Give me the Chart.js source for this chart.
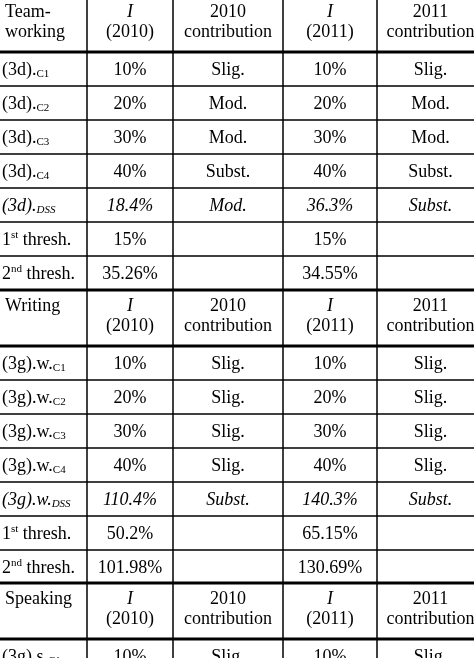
<!DOCTYPE html>
<html><head><meta charset="utf-8">
<script src="https://cdn.jsdelivr.net/npm/chart.js@4"></script>
<style>html,body{margin:0;padding:0;background:#fff}#w{width:474px;height:658px}</style>
</head><body><div id="w"><canvas id="c"></canvas></div>
<script>
// ---- data ----
const sections = ["Team-\nworking", "Writing", "Speaking"];
const headerCols = ["*I*\n(2010)", "2010\ncontribution", "*I*\n(2011)", "2011\ncontribution"];
const teamLabels = ["(3d)._C1","(3d)._C2","(3d)._C3","(3d)._C4","*(3d)._DSS*","1^st thresh.","2^nd thresh."];
const teamI2010 = ["10%","20%","30%","40%","*18.4%*","15%","35.26%"];
const teamC2010 = ["Slig.","Mod.","Mod.","Subst.","*Mod.*","",""];
const teamI2011 = ["10%","20%","30%","40%","*36.3%*","15%","34.55%"];
const teamC2011 = ["Slig.","Mod.","Mod.","Subst.","*Subst.*","",""];
const writeLabels = ["(3g).w._C1","(3g).w._C2","(3g).w._C3","(3g).w._C4","*(3g).w._DSS*","1^st thresh.","2^nd thresh."];
const writeI2010 = ["10%","20%","30%","40%","*110.4%*","50.2%","101.98%"];
const writeC2010 = ["Slig.","Slig.","Slig.","Slig.","*Subst.*","",""];
const writeI2011 = ["10%","20%","30%","40%","*140.3%*","65.15%","130.69%"];
const writeC2011 = ["Slig.","Slig.","Slig.","Slig.","*Subst.*","",""];
const speakLabels = ["(3g).s._C1"];
const speakI2010 = ["10%"];
const speakC2010 = ["Slig."];
const speakI2011 = ["10%"];
const speakC2011 = ["Slig."];

// ---- layout ----
const colEdges = [0, 87, 173, 283, 377, 520];
const headerH = 56, rowH = 34;

const blocks = [
  {title: sections[0], cols:[teamLabels,teamI2010,teamC2010,teamI2011,teamC2011], top:-4},
  {title: sections[1], cols:[writeLabels,writeI2010,writeC2010,writeI2011,writeC2011], top:290},
  {title: sections[2], cols:[speakLabels,speakI2010,speakC2010,speakI2011,speakC2011], top:583}
];

function drawRich(ctx, text, x, y, align){
  let italic = false;
  if (text.startsWith("*") && text.endsWith("*")) { italic = true; text = text.slice(1,-1); }
  const segs = [];
  let re = /([_^])(\S+)/g, last = 0, m;
  while ((m = re.exec(text))) {
    if (m.index > last) segs.push({t:text.slice(last,m.index), k:"n"});
    segs.push({t:m[2], k:m[1]=="_"?"sub":"sup"});
    last = re.lastIndex;
  }
  if (last < text.length) segs.push({t:text.slice(last), k:"n"});
  const fam = "'Liberation Serif','Times New Roman',serif";
  const fnt = k => (italic?"italic ":"") + (k=="n"?"18px ":"11px ") + fam;
  let w = 0;
  segs.forEach(s => { ctx.font = fnt(s.k); s.w = ctx.measureText(s.t).width; w += s.w; });
  let cx = align=="left" ? x : x - w/2;
  ctx.textAlign = "left"; ctx.textBaseline = "middle";
  segs.forEach(s => {
    ctx.font = fnt(s.k);
    const dy = s.k=="sub" ? 4 : s.k=="sup" ? -5 : 0;
    ctx.fillText(s.t, cx, y + dy);
    cx += s.w;
  });
}

const tablePlugin = {
  id:"table",
  afterDraw(chart){
    const ctx = chart.ctx, xs = chart.scales.x, ys = chart.scales.y;
    const X = v => xs.getPixelForValue(v), Y = v => ys.getPixelForValue(v);
    ctx.save();
    ctx.fillStyle = "#000"; ctx.strokeStyle = "#000";
    const line = (x1,y1,x2,y2,w) => { ctx.lineWidth = w; ctx.beginPath(); ctx.moveTo(X(x1),Y(y1)); ctx.lineTo(X(x2),Y(y2)); ctx.stroke(); };
    blocks.forEach(b => {
      const nRows = b.cols[0].length;
      const bottom = b.top + headerH + rowH*nRows;
      const hdr = [b.title].concat(headerCols);
      hdr.forEach((h,ci) => {
        h.split("\n").forEach((ln,li) => {
          const cy = b.top + 16 + li*20;
          if (ci==0) drawRich(ctx, ln, X(colEdges[0]+5), Y(cy), "left");
          else drawRich(ctx, ln, X((colEdges[ci]+colEdges[ci+1])/2 + (ci==4?-18:0)), Y(cy), "center");
        });
      });
      for (let r=0;r<nRows;r++){
        const cy = b.top + headerH + rowH*r + rowH/2 + 1;
        b.cols.forEach((col,ci) => {
          if (!col[r]) return;
          if (ci==0) drawRich(ctx, col[r], X(colEdges[0]+2), Y(cy), "left");
          else drawRich(ctx, col[r], X((colEdges[ci]+colEdges[ci+1])/2 + (ci==4?-18:0)), Y(cy), "center");
        });
        if (r>0) line(0, b.top+headerH+rowH*r, 520, b.top+headerH+rowH*r, 1.3);
      }
      line(0, b.top+headerH, 520, b.top+headerH, 3);
      if (b.top > 0) line(0, b.top, 520, b.top, 3);
      for (let ci=1; ci<colEdges.length-1; ci++) line(colEdges[ci], Math.max(b.top,0), colEdges[ci], bottom, 1.5);
    });
    ctx.restore();
  }
};

new Chart(document.getElementById("c"), {
  type:"scatter",
  data:{datasets:[{data:[{x:0,y:0}], pointRadius:0}]},
  options:{
    responsive:true, maintainAspectRatio:false, animation:false,
    layout:{padding:0},
    plugins:{legend:{display:false}, tooltip:{enabled:false}},
    scales:{
      x:{type:"linear", min:0, max:474, display:false},
      y:{type:"linear", min:0, max:658, reverse:true, display:false}
    }
  },
  plugins:[tablePlugin]
});
</script></body></html>
